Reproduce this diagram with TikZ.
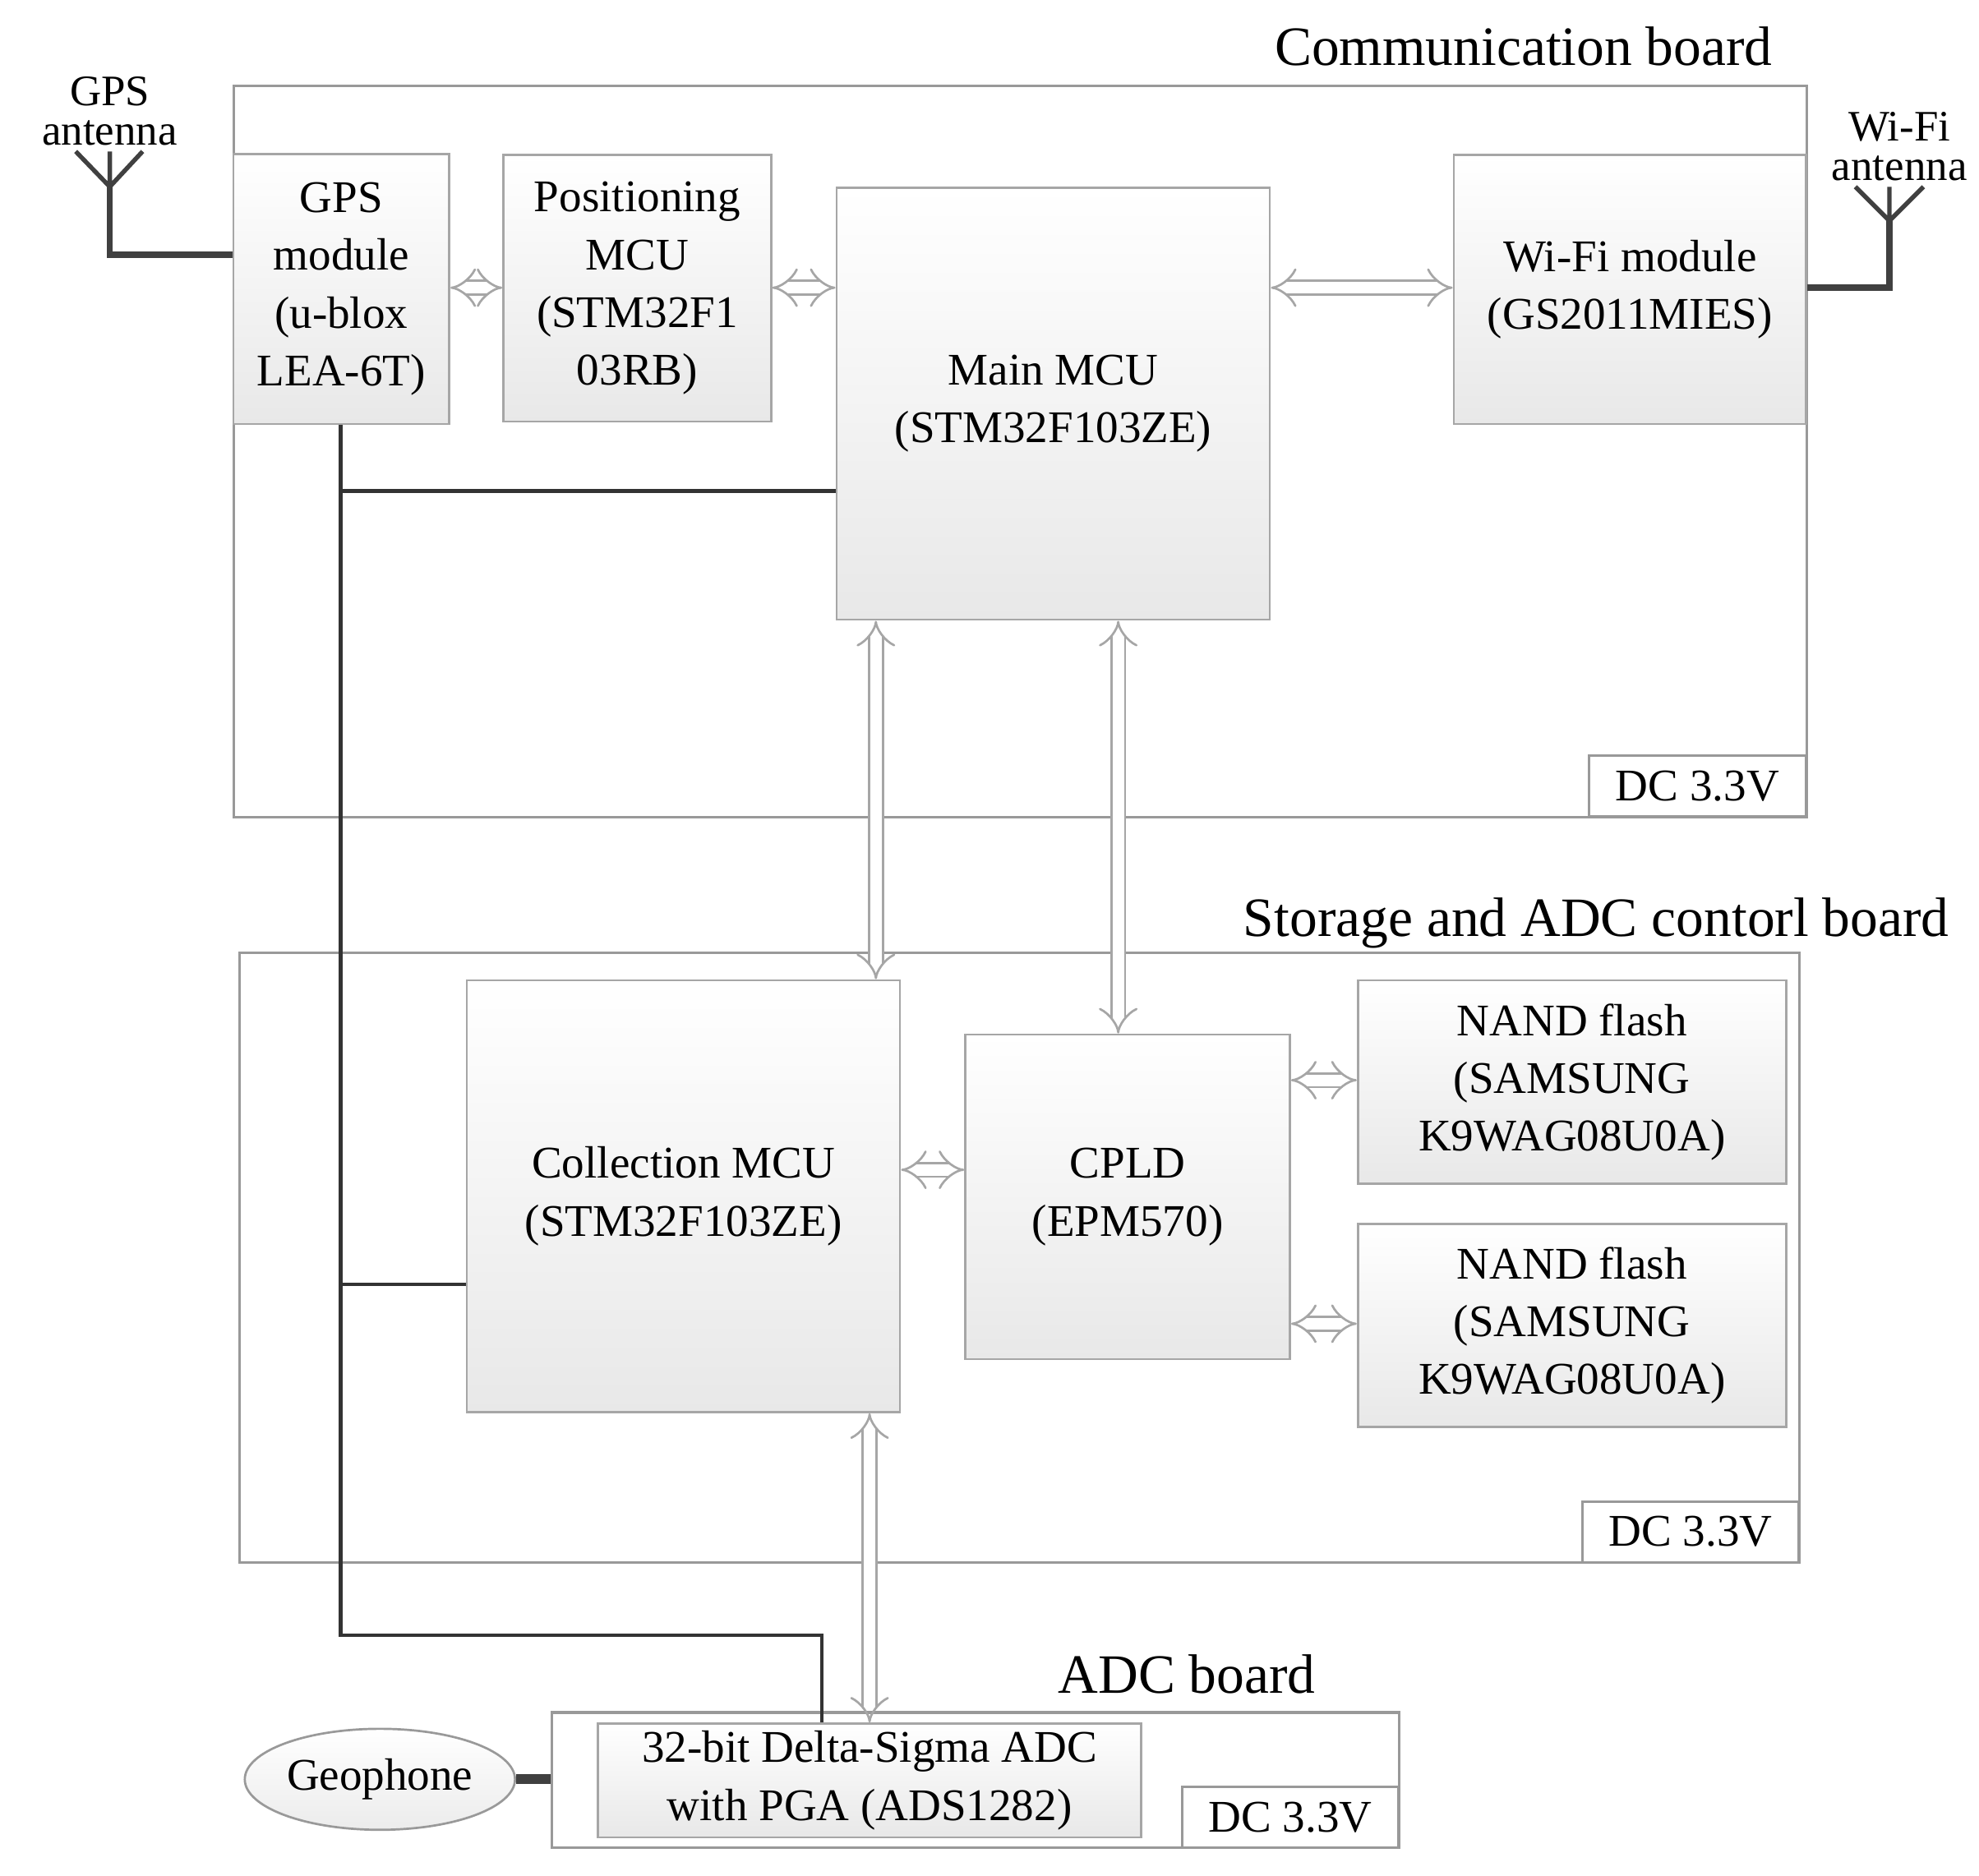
\documentclass[tikz,border=0pt]{standalone}
\usepackage{fontspec}
\setmainfont{Liberation Serif}
\usetikzlibrary{arrows.meta,shapes.geometric}
\begin{document}
\begin{tikzpicture}[x=0.01cm,y=-0.01cm,
  box/.style={draw=gray!70,line width=0.5pt,top color=white,bottom color=gray!18,anchor=north west,inner sep=0pt,align=center,font=\fontsize{10.2}{13}\selectfont},
  board/.style={draw=gray!80,line width=0.6pt,anchor=north west,inner sep=0pt},
  dc/.style={draw=gray!80,line width=0.5pt,fill=white,anchor=north west,inner sep=0pt,font=\fontsize{10.2}{12}\selectfont},
  ttl/.style={font=\fontsize{12.5}{14}\selectfont,anchor=base east,inner sep=0pt},
  dbl/.style={draw=gray!70,double=white,double distance=2.6pt,line width=0.5pt,{Implies}-{Implies}},
  wire/.style={line width=0.8pt,draw=black!80}]
\useasboundingbox (0,0) rectangle (1568,1486);
% boards
\node[board,minimum width=1246\pgflinewidth*0+12.46cm,minimum height=5.79cm] (cb) at (184,67) {};
\node[ttl] (cbt) at (1405,52) {Communication board};
\node[dc,minimum width=1.72cm,minimum height=0.48cm] (dc1) at (1258,598) {DC 3.3V};
\node[board,minimum width=12.35cm,minimum height=4.83cm] (sb) at (189,754) {};
\node[ttl] (sbt) at (1545,742) {Storage and ADC contorl board};
\node[dc,minimum width=1.71cm,minimum height=0.48cm] (dc2) at (1253,1189) {DC 3.3V};
\node[board,minimum width=6.71cm,minimum height=1.07cm] (ab) at (436,1356) {};
\node[ttl] (abt) at (1043,1342) {ADC board};
\node[dc,minimum width=1.71cm,minimum height=0.48cm] (dc3) at (936,1415) {DC 3.3V};
% modules
\node[box,minimum width=1.71cm,minimum height=2.14cm] (gps) at (184,121) {GPS\\module\\(u-blox\\LEA-6T)};
\node[box,minimum width=2.12cm,minimum height=2.11cm] (pos) at (398,122) {Positioning\\MCU\\(STM32F1\\03RB)};
\node[box,minimum width=3.43cm,minimum height=3.42cm] (main) at (662,148) {Main MCU\\(STM32F103ZE)};
\node[box,minimum width=2.79cm,minimum height=2.13cm] (wifi) at (1151,122) {Wi-Fi module\\(GS2011MIES)};
\node[box,minimum width=3.43cm,minimum height=3.42cm] (coll) at (369,776) {Collection MCU\\(STM32F103ZE)};
\node[box,minimum width=2.57cm,minimum height=2.57cm] (cpld) at (764,819) {CPLD\\(EPM570)};
\node[box,minimum width=3.39cm,minimum height=1.61cm] (nand1) at (1075,776) {NAND flash\\(SAMSUNG\\K9WAG08U0A)};
\node[box,minimum width=3.39cm,minimum height=1.61cm] (nand2) at (1075,969) {NAND flash\\(SAMSUNG\\K9WAG08U0A)};
\node[box,minimum width=4.30cm,minimum height=0.90cm] (adc) at (473,1365) {32-bit Delta-Sigma ADC\\with PGA (ADS1282)};
\node[draw=gray!80,line width=0.5pt,top color=white,bottom color=gray!15,ellipse,minimum width=2.14cm,minimum height=0.80cm,inner sep=0pt,font=\fontsize{10.2}{12}\selectfont] (geo) at (301,1410) {Geophone};
% antennas
\node[align=center,inner sep=0pt,font=\fontsize{9.8}{9}\selectfont] (gpsa) at (87,88) {GPS\\antenna};
\node[align=center,inner sep=0pt,font=\fontsize{9.8}{9}\selectfont] (wfa) at (1505,116) {Wi-Fi\\antenna};
\coordinate (ga) at (87,148);
\coordinate (wa) at (1497,175);
\draw[line width=1pt,draw=black!75] (60,120) -- (ga) -- (113,120) (87,120) -- (ga);
\draw[line width=1.4pt,draw=black!75] (ga) |- (gps.west |- 0,202);
\draw[line width=1pt,draw=black!75] (1470,148) -- (wa) -- (1524,148) (1497,148) -- (wa);
\draw[line width=1.4pt,draw=black!75] (wa) |- (wifi.east |- 0,228);
% double arrows
\draw[dbl] (gps.east |- 0,228) -- (pos.west |- 0,228);
\draw[dbl] (pos.east |- 0,228) -- (main.west |- 0,228);
\draw[dbl] (main.east |- 0,228) -- (wifi.west |- 0,228);
\draw[dbl] (main.south -| 694,0) -- (coll.north -| 694,0);
\draw[dbl] (main.south -| 886,0) -- (cpld.north -| 886,0);
\draw[dbl] (coll.east |- 0,927) -- (cpld.west |- 0,927);
\draw[dbl] (cpld.east |- 0,856) -- (nand1.west |- 0,856);
\draw[dbl] (cpld.east |- 0,1049) -- (nand2.west |- 0,1049);
\draw[dbl] (coll.south -| 689,0) -- (adc.north -| 689,0);
% wires
\coordinate (j1) at (270,389);
\coordinate (j2) at (270,1018);
\draw[wire] (gps.south -| 270,0) -- (270,1296) -| (adc.north -| 651,0);
\draw[wire] (j1) -- (main.west |- j1);
\draw[wire] (j2) -- (coll.west |- j2);
\draw[line width=2.2pt,draw=black!75] (geo.east) -- (ab.west |- geo.east);
\end{tikzpicture}
\end{document}
